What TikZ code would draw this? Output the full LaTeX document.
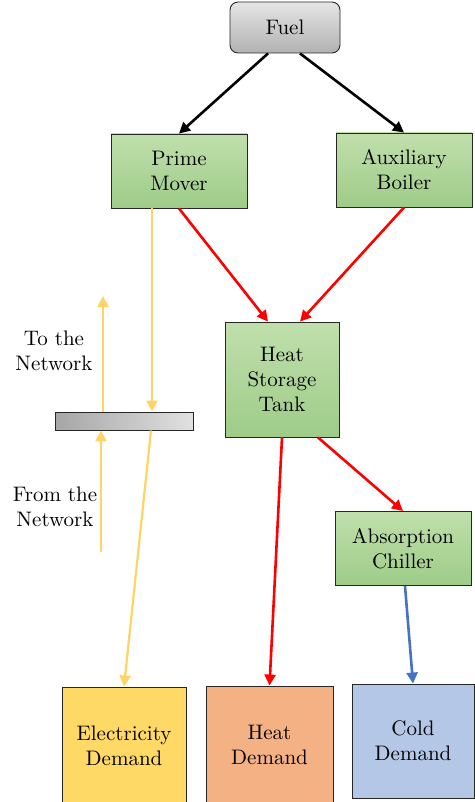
\documentclass[tikz,border=0pt]{standalone}
\usepackage{fontspec}
\setmainfont{lmroman10-regular.otf}
\usetikzlibrary{arrows.meta,positioning}
\definecolor{greentop}{RGB}{192,223,172}
\definecolor{greenbot}{RGB}{158,204,136}
\definecolor{elecfill}{RGB}{255,217,102}
\definecolor{heatfill}{RGB}{244,177,131}
\definecolor{coldfill}{RGB}{180,199,231}
\definecolor{elecline}{RGB}{255,212,100}
\definecolor{coldline}{RGB}{68,114,196}
\tikzset{
mytext/.style={
  align=center,
  font=\fontsize{21}{25}\selectfont
  },
mybox/.style={
  mytext,
  draw=black!85,
  line width=0.9pt,
  inner sep=0pt
  },
myproc/.style={
  mybox,
  top color=greentop,
  bottom color=greenbot,
  minimum width=136pt,
  minimum height=74pt
  },
mydem/.style={
  mybox,
  fill=#1,
  minimum width=124pt,
  minimum height=118pt
  },
myflow/.style={
  line width=2.6pt,
  draw=#1,
  -{Triangle[length=11pt,width=11pt]}
  }
}

\begin{document}
\begin{tikzpicture}[x=1pt,y=-1pt]
\useasboundingbox (0,0) rectangle (474,802);

\node[mybox,rounded corners=8pt,top color=black!10,bottom color=black!30,
  minimum width=110pt,minimum height=51pt] (fuel) at (285,27.5) {Fuel};

\node[myproc] (pm) at (179,171) {Prime\\Mover};
\node[myproc] (aux) at (404,170) {Auxiliary\\Boiler};
\node[myproc,minimum width=114pt,minimum height=115pt] (hst) at (282,379.5) {Heat\\Storage\\Tank};
\node[myproc] (abs) at (403,548.5) {Absorption\\Chiller};

\node[mydem=elecfill] (elec) at (124,746) {Electricity\\Demand};
\node[mydem=heatfill,minimum width=127pt] (heat) at (269.5,745) {Heat\\Demand};
\node[mydem=coldfill,minimum width=122pt,minimum height=114pt] (cold) at (413,741) {Cold\\Demand};

\node[draw=black!85,line width=0.9pt,left color=black!35,right color=black!12,
  inner sep=0pt,minimum width=138pt,minimum height=18pt] (bar) at (124,421) {};

\node[mytext] (tonet) at (54,351) {To the\\Network};
\node[mytext] (fromnet) at (55,507) {From the\\Network};

\coordinate (up) at (103,296);
\coordinate (down) at (101,552);

% fuel
\draw[myflow=black] ([xshift=-17pt]fuel.south) -- (pm.north);
\draw[myflow=black] ([xshift=15pt]fuel.south) -- (aux.north);

% heat
\draw[myflow=red] (pm.south) -- ([xshift=-14pt]hst.north);
\draw[myflow=red] (aux.south) -- ([xshift=18pt]hst.north);
\draw[myflow=red] (hst.south) -- (heat.north);
\draw[myflow=red] ([xshift=36pt]hst.south) -- (abs.north);

% cold
\draw[myflow=coldline] ([xshift=2pt]abs.south) -- (cold.north);

% electricity
\draw[myflow=elecline,line width=2.2pt] ([xshift=-27pt]pm.south) -- ([xshift=28pt]bar.north);
\draw[myflow=elecline,line width=2.2pt] ([xshift=27pt]bar.south) -- (elec.north);
\draw[myflow=elecline,line width=2.2pt] ([xshift=-21pt]bar.north) -- (up);
\draw[myflow=elecline,line width=2.2pt] (down) -- ([xshift=-23pt]bar.south);

\end{tikzpicture}
\end{document}
